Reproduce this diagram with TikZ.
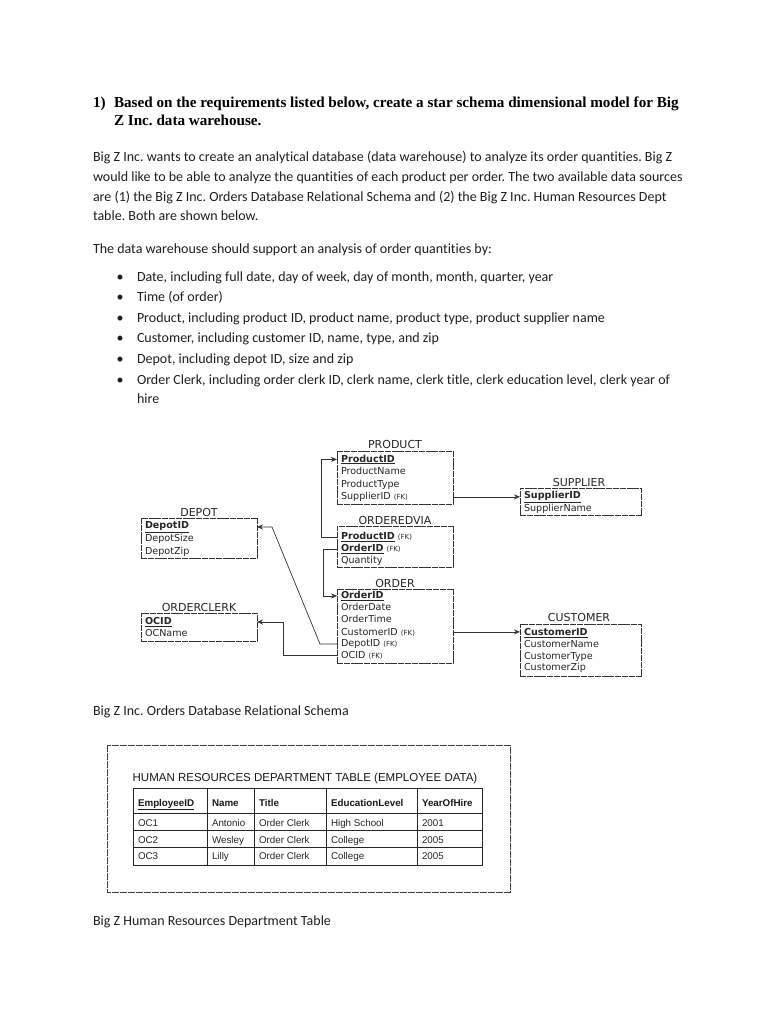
\documentclass[tikz,border=0pt]{standalone}
\usepackage{fontspec}
\setmainfont{Carlito}[Ligatures=NoCommon]
\newfontfamily\headfont{Liberation Serif}
\newfontfamily\schemafont{DejaVu Sans}
\newfontfamily\hrfont{Liberation Sans}
\usetikzlibrary{arrows.meta,calc}
\newcommand{\fkmark}{{\fontsize{7}{8}\selectfont (FK)}}
\frenchspacing
\begin{document}
\begin{tikzpicture}[x=1pt,y=-1pt,
  every node/.style={inner sep=0pt, outer sep=0pt},
  body/.style={anchor=base west, font=\fontsize{14}{16}\selectfont, text=black!88},
  head/.style={anchor=base west, font=\headfont\bfseries\fontsize{15.15}{18}\selectfont},
  bul/.style={anchor=base, font=\fontsize{14}{16}\selectfont, text=black!88},
  tbox/.style={draw=black!80, line width=0.8pt, dash pattern=on 6pt off 0.8pt, anchor=north west},
  ttitle/.style={anchor=base, font=\schemafont\fontsize{11}{13}\selectfont, text=black!85},
  row/.style={anchor=base west, font=\schemafont\fontsize{9.6}{11}\selectfont, text=black!85},
  fk/.style={draw=black!80, line width=0.7pt, -{Stealth[length=6pt,width=5pt]}},
  hrt/.style={anchor=base, font=\hrfont\fontsize{11.5}{13}\selectfont, text=black!90},
  hrh/.style={anchor=base west, font=\hrfont\bfseries\fontsize{9.8}{12}\selectfont, text=black!90},
  hrc/.style={anchor=base west, font=\hrfont\fontsize{9.8}{12}\selectfont, text=black!85},
  grid/.style={draw=black!85, line width=0.8pt},
  frame/.style={draw=black!75, line width=0.8pt, dash pattern=on 7pt off 1pt}
]
\useasboundingbox (0,0) rectangle (768,1024);
\fill[white] (0,0) rectangle (768,1024);

% ---------- heading ----------
\node[head] (h1n) at (93,108) {1)};
\node[head] (h1) at (114,108) {Based on the requirements listed below, create a star schema dimensional model for Big};
\node[head] (h2) at (114,126) {Z Inc. data warehouse.};

% ---------- paragraph ----------
\node[body] (p1) at (93,162) {Big Z Inc. wants to create an analytical database (data warehouse) to analyze its order quantities. Big Z};
\node[body] (p2) at (93,182) {would like to be able to analyze the quantities of each product per order. The two available data sources};
\node[body] (p3) at (93,201.5) {are (1) the Big Z Inc. Orders Database Relational Schema and (2) the Big Z Inc. Human Resources Dept};
\node[body] (p4) at (93,221) {table. Both are shown below.};
\node[body] (p5) at (93,253) {The data warehouse should support an analysis of order quantities by:};

% ---------- bullets ----------
\foreach \yy/\tx [count=\i] in {281/{Date, including full date, day of week, day of month, month, quarter, year},
  301.5/{Time (of order)},
  322/{Product, including product ID, product name, product type, product supplier name},
  342.5/{Customer, including customer ID, name, type, and zip},
  363/{Depot, including depot ID, size and zip},
  384/{Order Clerk, including order clerk ID, clerk name, clerk title, clerk education level, clerk year of}}{
  \node[bul] (b\i) at (120,\yy) {•};
  \node[body] (bt\i) at (137,\yy) {\tx};
}
\node[body] (bt7) at (137,403.5) {hire};

% ---------- relational schema ----------
% PRODUCT
\node[tbox, minimum width=116pt, minimum height=53pt] (prod) at (337,451) {};
\node[ttitle] (prodT) at (395,448) {PRODUCT};
\node[row] (pPid) at (341,462) {\bfseries\underline{ProductID}};
\node[row] (pPn) at (341,474.5) {ProductName};
\node[row] (pPt) at (341,487) {ProductType};
\node[row] (pSid) at (341,499.5) {SupplierID \fkmark};

% SUPPLIER
\node[tbox, minimum width=121pt, minimum height=27pt] (sup) at (520,488) {};
\node[ttitle] (supT) at (579,486) {SUPPLIER};
\node[row] (sSid) at (524,498.5) {\bfseries\underline{SupplierID}};
\node[row] (sSn) at (524,511) {SupplierName};

% DEPOT
\node[tbox, minimum width=116pt, minimum height=40pt] (dep) at (141,518) {};
\node[ttitle] (depT) at (199,516) {DEPOT};
\node[row] (dId) at (145,528.5) {\bfseries\underline{DepotID}};
\node[row] (dSz) at (145,541.5) {DepotSize};
\node[row] (dZp) at (145,554) {DepotZip};

% ORDEREDVIA
\node[tbox, minimum width=116pt, minimum height=41pt] (ov) at (337,526) {};
\node[ttitle] (ovT) at (395,524) {ORDEREDVIA};
\node[row] (ovPid) at (341,539.5) {\bfseries\underline{ProductID}\mdseries\ \fkmark};
\node[row] (ovOid) at (341,551.5) {\bfseries\underline{OrderID}\mdseries\ \fkmark};
\node[row] (ovQ) at (341,563) {Quantity};

% ORDER
\node[tbox, minimum width=116pt, minimum height=74pt] (ord) at (337,589) {};
\node[ttitle] (ordT) at (395,587) {ORDER};
\node[row] (oOid) at (341,598.5) {\bfseries\underline{OrderID}};
\node[row] (oOd) at (341,610.5) {OrderDate};
\node[row] (oOt) at (341,622.5) {OrderTime};
\node[row] (oCid) at (341,635) {CustomerID \fkmark};
\node[row] (oDid) at (341,646.5) {DepotID \fkmark};
\node[row] (oOc) at (341,658.5) {OCID \fkmark};

% ORDERCLERK
\node[tbox, minimum width=116pt, minimum height=28pt] (clk) at (141,613) {};
\node[ttitle] (clkT) at (199,611) {ORDERCLERK};
\node[row] (cOc) at (145,624.5) {\bfseries\underline{OCID}};
\node[row] (cOn) at (145,636.5) {OCName};

% CUSTOMER
\node[tbox, minimum width=121pt, minimum height=52pt] (cus) at (520,624) {};
\node[ttitle] (cusT) at (579,621) {CUSTOMER};
\node[row] (cuId) at (524,635.5) {\bfseries\underline{CustomerID}};
\node[row] (cuN) at (524,647.5) {CustomerName};
\node[row] (cuT) at (524,659.5) {CustomerType};
\node[row] (cuZ) at (524,670.5) {CustomerZip};

% connectors
\draw[fk] (ov.west |- ovPid.west) -- ++(-16pt,0) |- (prod.west |- pPid.west);
\draw[fk] (ov.west |- ovOid.west) -- ++(-14pt,0) |- (ord.west |- oOid.west);
\draw[fk] (prod.east |- pSid.west) -- (sup.west |- pSid.west);
\draw[fk] (ord.east |- oCid.west) -- (cus.west |- oCid.west);
\draw[fk] (ord.west |- oDid.west) -- ++(-17pt,0) -- ($(dep.east |- dId.west)+(15pt,0)$) -- (dep.east |- dId.west);
\draw[fk] (ord.west |- oOc.west) -- ++(-54pt,0) |- (clk.east |- cOc.west);

\node[body] (cap1) at (93,715) {Big Z Inc. Orders Database Relational Schema};

% ---------- HR table ----------
\draw[frame] (107,745) rectangle (510,892);
\node[hrt] (hrT) at (305,781) {HUMAN RESOURCES DEPARTMENT TABLE (EMPLOYEE DATA)};
\draw[grid] (133,788) rectangle (482,865);
\draw[grid, line width=1pt] (133,813) -- (482,813);
\draw[grid] (133,830) -- (482,830);
\draw[grid] (133,847) -- (482,847);
\foreach \xx in {207,254,326,417}{\draw[grid] (\xx,788) -- (\xx,865);}
\node[hrh] (hE) at (138,806) {\underline{EmployeeID}};
\node[hrh] (hN) at (212,806) {Name};
\node[hrh] (hT) at (259,806) {Title};
\node[hrh] (hL) at (331,806) {EducationLevel};
\node[hrh] (hY) at (422,806) {YearOfHire};
\foreach \yy/\a/\b/\c/\d/\e [count=\j] in {826/OC1/Antonio/Order Clerk/High School/2001,
  843/OC2/Wesley/Order Clerk/College/2005,
  859.5/OC3/Lilly/Order Clerk/College/2005}{
  \node[hrc] (r\j a) at (138,\yy) {\a};
  \node[hrc] (r\j b) at (212,\yy) {\b};
  \node[hrc] (r\j c) at (259,\yy) {\c};
  \node[hrc] (r\j d) at (331,\yy) {\d};
  \node[hrc] (r\j e) at (422,\yy) {\e};
}

\node[body] (cap2) at (93,925) {Big Z Human Resources Department Table};
\end{tikzpicture}
\end{document}
